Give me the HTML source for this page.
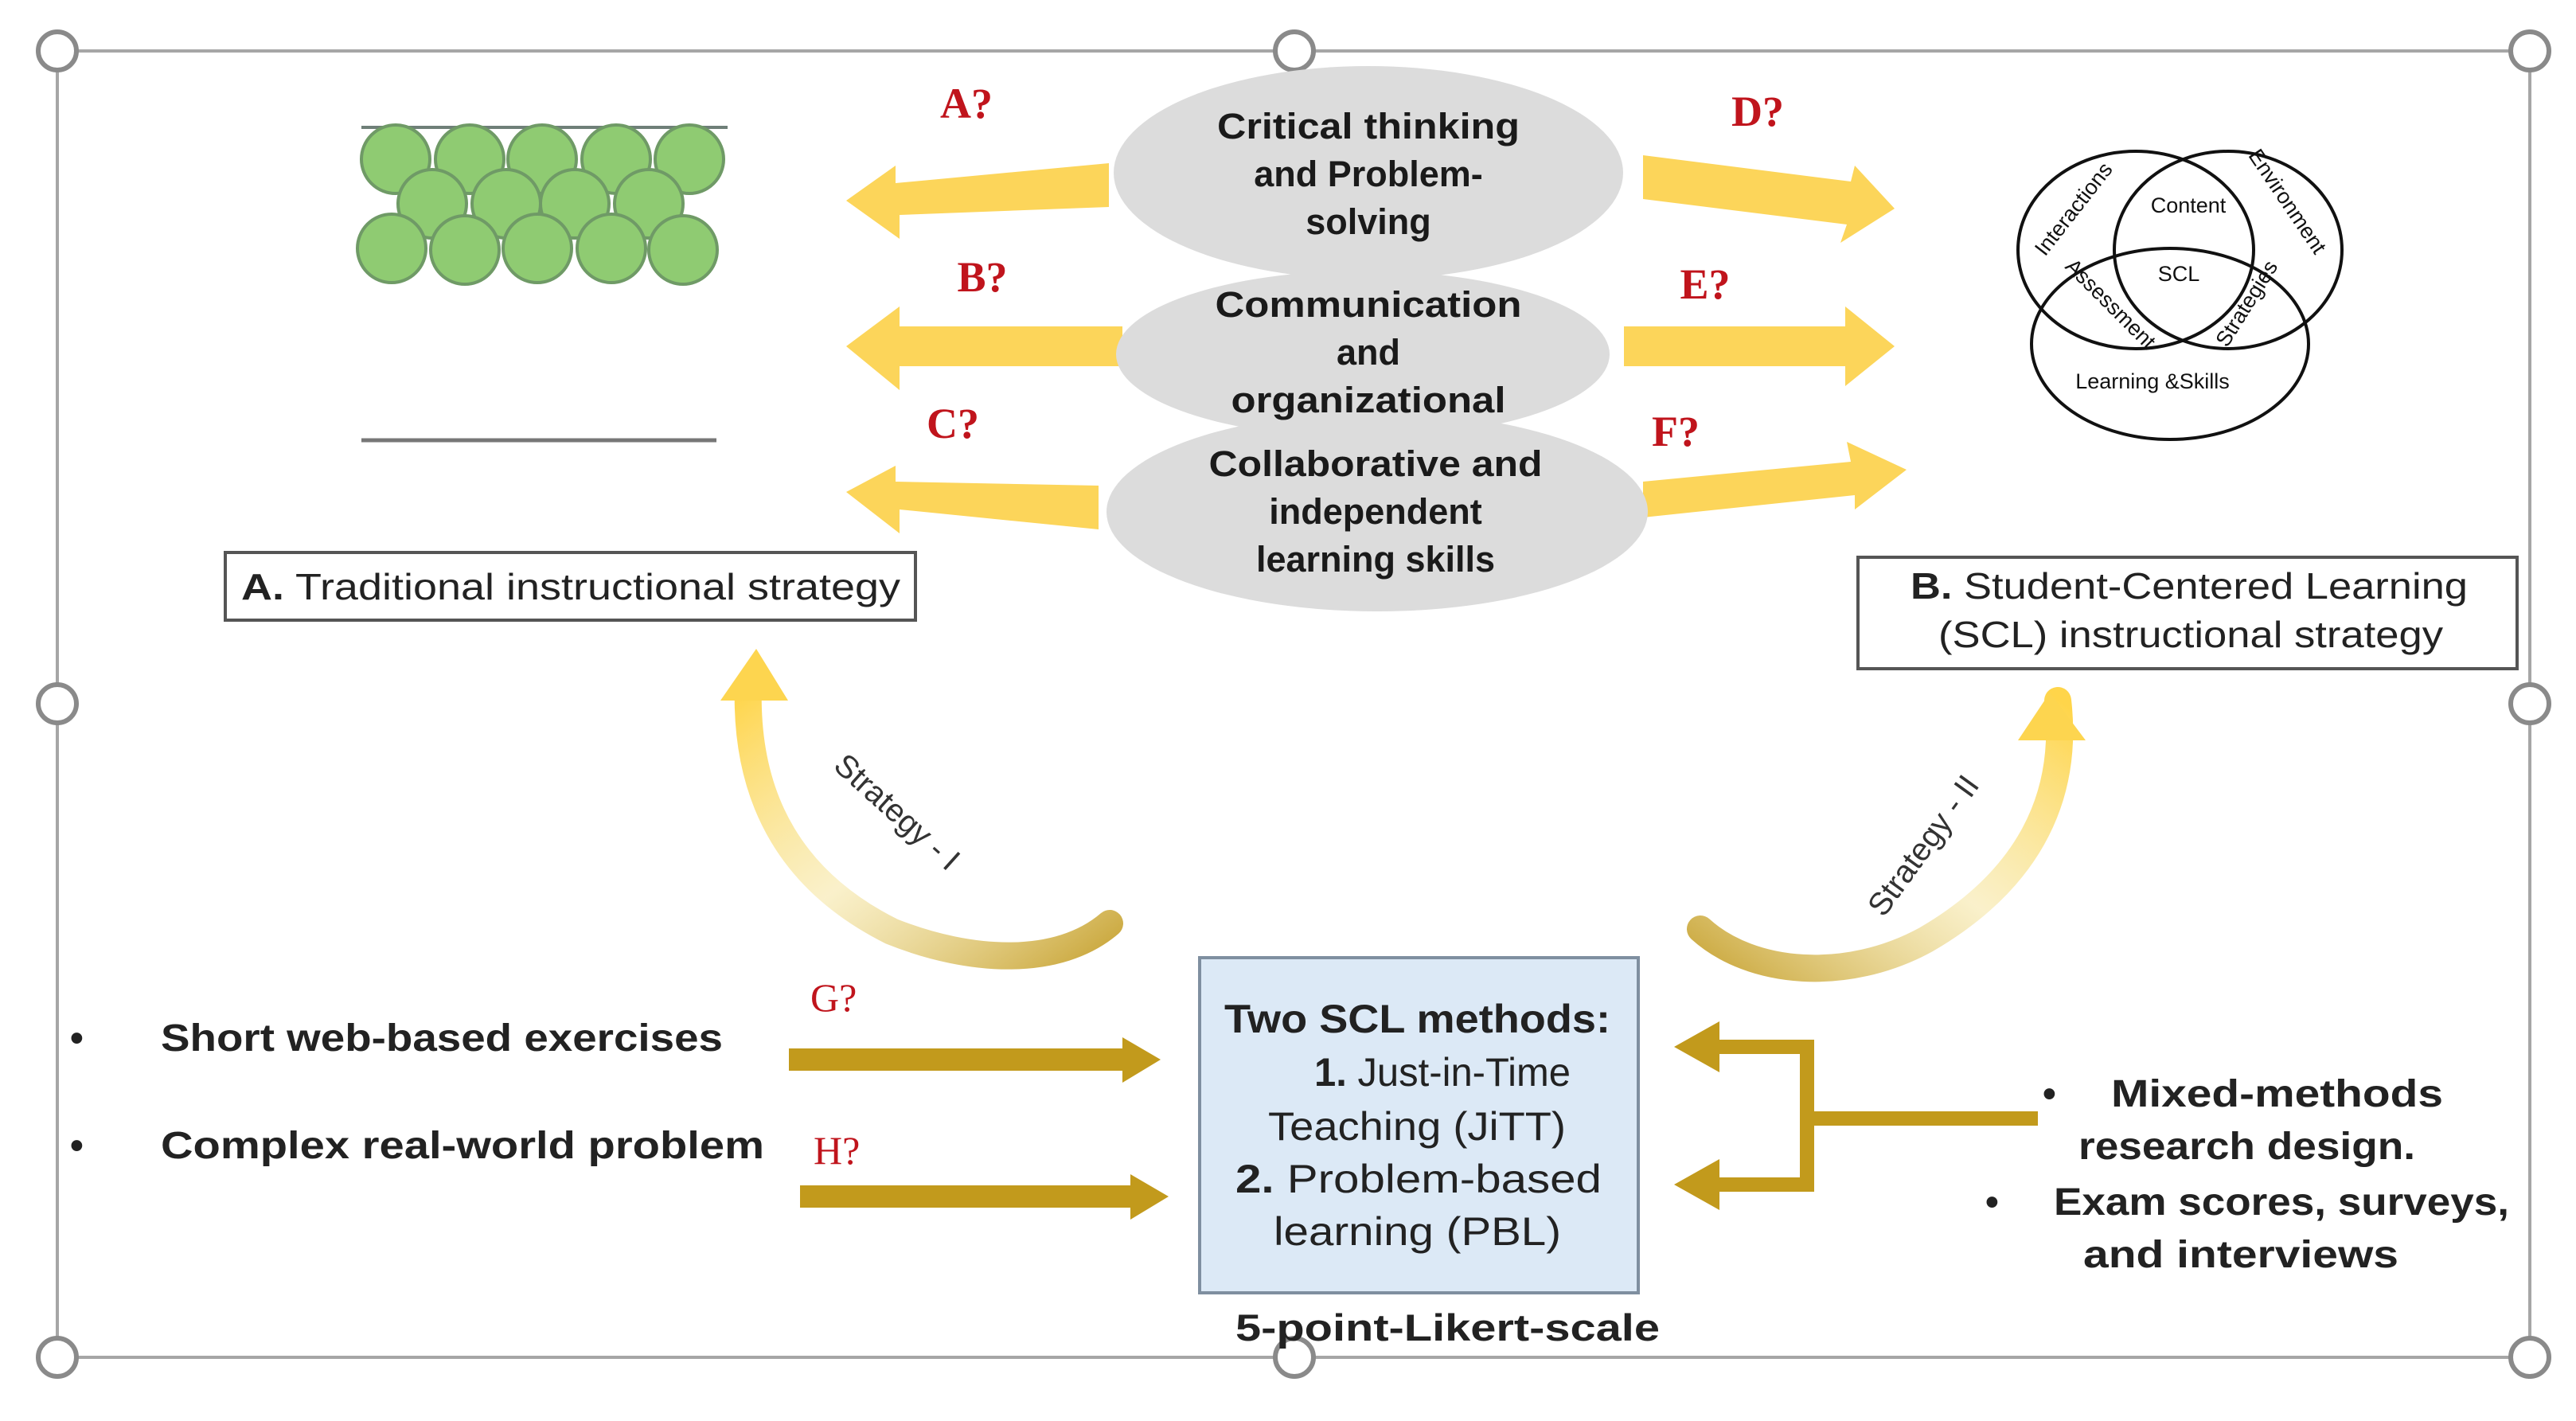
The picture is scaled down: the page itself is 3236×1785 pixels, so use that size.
<!DOCTYPE html>
<html><head><meta charset="utf-8"><style>
html,body{margin:0;padding:0;background:#fff;}
svg{display:block;}
</style></head><body>
<svg width="3236" height="1785" viewBox="0 0 3236 1785" xmlns="http://www.w3.org/2000/svg" font-family="Liberation Sans, sans-serif">
<defs>
<linearGradient id="gl" x1="0" y1="0" x2="1" y2="1"><stop offset="0" stop-color="#ffd54a"/><stop offset="0.5" stop-color="#f6e7a8" stop-opacity="0.6"/><stop offset="1" stop-color="#c9a63a"/></linearGradient>
<linearGradient id="gr" x1="1" y1="0" x2="0" y2="1"><stop offset="0" stop-color="#ffd54a"/><stop offset="0.5" stop-color="#f6e7a8" stop-opacity="0.6"/><stop offset="1" stop-color="#c9a63a"/></linearGradient>
</defs>
<rect x="72" y="64" width="3106" height="1641" fill="none" stroke="#a6a6a6" stroke-width="4"/>
<g fill="#fff" stroke="#8a8a8a" stroke-width="6">
<circle cx="72" cy="64" r="24"/><circle cx="1626" cy="64" r="24"/><circle cx="3178" cy="64" r="24"/>
<circle cx="72" cy="884" r="24"/><circle cx="3178" cy="884" r="24"/>
<circle cx="72" cy="1705" r="24"/><circle cx="1626" cy="1705" r="24"/><circle cx="3178" cy="1705" r="24"/>
</g>
<line x1="454" y1="160" x2="914" y2="160" stroke="#6f7f78" stroke-width="4"/>
<g fill="#8fcb72" stroke="#6f9a66" stroke-width="4">
<circle cx="497" cy="200" r="43"/><circle cx="590" cy="200" r="43"/><circle cx="681" cy="200" r="43"/><circle cx="774" cy="200" r="43"/><circle cx="866" cy="200" r="43"/>
<circle cx="543" cy="256" r="43"/><circle cx="636" cy="256" r="43"/><circle cx="722" cy="256" r="43"/><circle cx="815" cy="256" r="43"/>
<circle cx="492" cy="312" r="43"/><circle cx="584" cy="314" r="43"/><circle cx="675" cy="312" r="43"/><circle cx="768" cy="312" r="43"/><circle cx="858" cy="314" r="43"/>
</g>
<line x1="454" y1="553" x2="900" y2="553" stroke="#777" stroke-width="5"/>
<g fill="#fcd55a">
<polygon points="1393,205 1393,260 1130,270 1130,300 1063,252 1125,208 1125,230"/>
<polygon points="1410,410 1410,460 1130,460 1130,490 1063,435 1130,385 1130,410"/>
<polygon points="1380,610 1380,665 1130,640 1130,670 1063,618 1125,585 1125,605"/>
<polygon points="2064,195 2064,250 2320,282 2312,305 2380,262 2330,208 2325,228"/>
<polygon points="2040,410 2040,460 2318,460 2318,485 2380,435 2318,385 2318,410"/>
<polygon points="2064,650 2064,605 2325,580 2320,555 2395,590 2330,640 2330,622"/>
</g>
<g fill="#dcdcdc">
<ellipse cx="1719" cy="217" rx="320" ry="134"/>
<ellipse cx="1712" cy="445" rx="310" ry="105"/>
<ellipse cx="1730" cy="643" rx="340" ry="125"/>
</g>
<g font-weight="bold" font-size="45" fill="#1a1a1a" text-anchor="middle" lengthAdjust="spacingAndGlyphs">
<text x="1719" y="174" textLength="380" lengthAdjust="spacingAndGlyphs">Critical thinking</text>
<text x="1719" y="234">and Problem-</text>
<text x="1719" y="294">solving</text>
<text x="1719" y="398" textLength="385" lengthAdjust="spacingAndGlyphs">Communication</text>
<text x="1719" y="458">and</text>
<text x="1719" y="518" textLength="345" lengthAdjust="spacingAndGlyphs">organizational</text>
<text x="1728" y="598" textLength="419" lengthAdjust="spacingAndGlyphs">Collaborative and</text>
<text x="1728" y="658">independent</text>
<text x="1728" y="718">learning skills</text>
</g>
<g font-family="Liberation Serif, serif" font-weight="bold" font-size="54" fill="#c0141c" text-anchor="middle">
<text x="1214" y="148">A?</text><text x="1234" y="366">B?</text><text x="1197" y="550">C?</text>
<text x="2208" y="158">D?</text><text x="2142" y="375">E?</text><text x="2105" y="560">F?</text>
</g>
<rect x="283" y="694" width="867" height="85" fill="#fff" stroke="#555" stroke-width="4"/>
<text x="303" y="753" font-size="46" fill="#222" textLength="828" lengthAdjust="spacingAndGlyphs"><tspan font-weight="bold">A.</tspan> Traditional instructional strategy</text>
<rect x="2334" y="700" width="828" height="140" fill="#fff" stroke="#555" stroke-width="4"/>
<text x="2400" y="752" font-size="46" fill="#222" textLength="700" lengthAdjust="spacingAndGlyphs"><tspan font-weight="bold">B.</tspan> Student-Centered Learning</text>
<text x="2435" y="813" font-size="46" fill="#222" textLength="634" lengthAdjust="spacingAndGlyphs">(SCL) instructional strategy</text>
<g fill="none" stroke="#111" stroke-width="4">
<ellipse cx="2683" cy="314" rx="148" ry="124"/>
<ellipse cx="2799" cy="314" rx="143" ry="124"/>
<ellipse cx="2726" cy="432" rx="174" ry="120"/>
</g>
<g font-size="27" fill="#111" text-anchor="middle">
<text x="2749" y="267">Content</text>
<text x="2737" y="353">SCL</text>
<text x="2704" y="488">Learning &amp;Skills</text>
<text transform="translate(2612,268) rotate(-52)">Interactions</text>
<text transform="translate(2866,258) rotate(56)">Environment</text>
<text transform="translate(2645,388) rotate(45)">Assessment</text>
<text transform="translate(2830,386) rotate(-58)">Strategies</text>
</g>
<path d="M1394,1160 C1330,1215 1220,1210 1120,1170 C1000,1110 935,1010 940,860" fill="none" stroke="url(#gl)" stroke-width="34" stroke-linecap="round"/>
<polygon points="950,815 905,880 990,880" fill="#fdd54f"/>
<text transform="translate(1118,1030) rotate(42)" font-size="40" text-anchor="middle" fill="#333">Strategy - I</text>
<path d="M2136,1167 C2200,1225 2320,1235 2420,1180 C2540,1110 2600,1010 2585,880" fill="none" stroke="url(#gr)" stroke-width="34" stroke-linecap="round"/>
<polygon points="2575,870 2535,930 2620,930" fill="#fdd54f"/>
<text transform="translate(2427,1070) rotate(-54)" font-size="40" text-anchor="middle" fill="#333">Strategy - II</text>
<rect x="1507" y="1203" width="551" height="421" fill="#dce9f6" stroke="#7f8fa0" stroke-width="4"/>
<g font-size="50" fill="#222">
<text x="1538" y="1297" font-weight="bold" textLength="485" lengthAdjust="spacingAndGlyphs">Two SCL methods:</text>
<text x="1651" y="1364" textLength="322" lengthAdjust="spacingAndGlyphs"><tspan font-weight="bold">1.</tspan> Just-in-Time</text>
<text x="1593" y="1432" textLength="374" lengthAdjust="spacingAndGlyphs">Teaching (JiTT)</text>
<text x="1552" y="1498" textLength="460" lengthAdjust="spacingAndGlyphs"><tspan font-weight="bold">2.</tspan> Problem-based</text>
<text x="1600" y="1564" textLength="361" lengthAdjust="spacingAndGlyphs">learning (PBL)</text>
</g>
<text x="1552" y="1684" font-size="47" font-weight="bold" fill="#222" textLength="533" lengthAdjust="spacingAndGlyphs">5-point-Likert-scale</text>
<g font-size="48" font-weight="bold" fill="#222">
<text x="88" y="1320">•</text><text x="202" y="1320" textLength="706" lengthAdjust="spacingAndGlyphs">Short web-based exercises</text>
<text x="88" y="1455">•</text><text x="202" y="1455" textLength="758" lengthAdjust="spacingAndGlyphs">Complex real-world problem</text>
</g>
<g font-family="Liberation Serif, serif" font-size="50" fill="#c0141c">
<text x="1018" y="1270">G?</text><text x="1022" y="1462">H?</text>
</g>
<g fill="#c29a1c">
<polygon points="991,1317 1410,1317 1410,1303 1458,1331 1410,1360 1410,1345 991,1345"/>
<polygon points="1005,1489 1420,1489 1420,1475 1468,1503 1420,1532 1420,1517 1005,1517"/>
</g>
<g stroke="#c29a1c" stroke-width="18" fill="none">
<line x1="2560" y1="1405" x2="2270" y2="1405"/>
<polyline points="2150,1315 2270,1315 2270,1488 2150,1488"/>
</g>
<g fill="#c29a1c">
<polygon points="2103,1315 2160,1283 2160,1347"/>
<polygon points="2103,1488 2160,1456 2160,1520"/>
</g>
<g font-size="48" font-weight="bold" fill="#222">
<text x="2566" y="1390">•</text><text x="2652" y="1390" textLength="417" lengthAdjust="spacingAndGlyphs">Mixed-methods</text>
<text x="2611" y="1456" textLength="423" lengthAdjust="spacingAndGlyphs">research design.</text>
<text x="2494" y="1526">•</text><text x="2580" y="1526" textLength="572" lengthAdjust="spacingAndGlyphs">Exam scores, surveys,</text>
<text x="2617" y="1592" textLength="396" lengthAdjust="spacingAndGlyphs">and interviews</text>
</g>
</svg>
</body></html>
